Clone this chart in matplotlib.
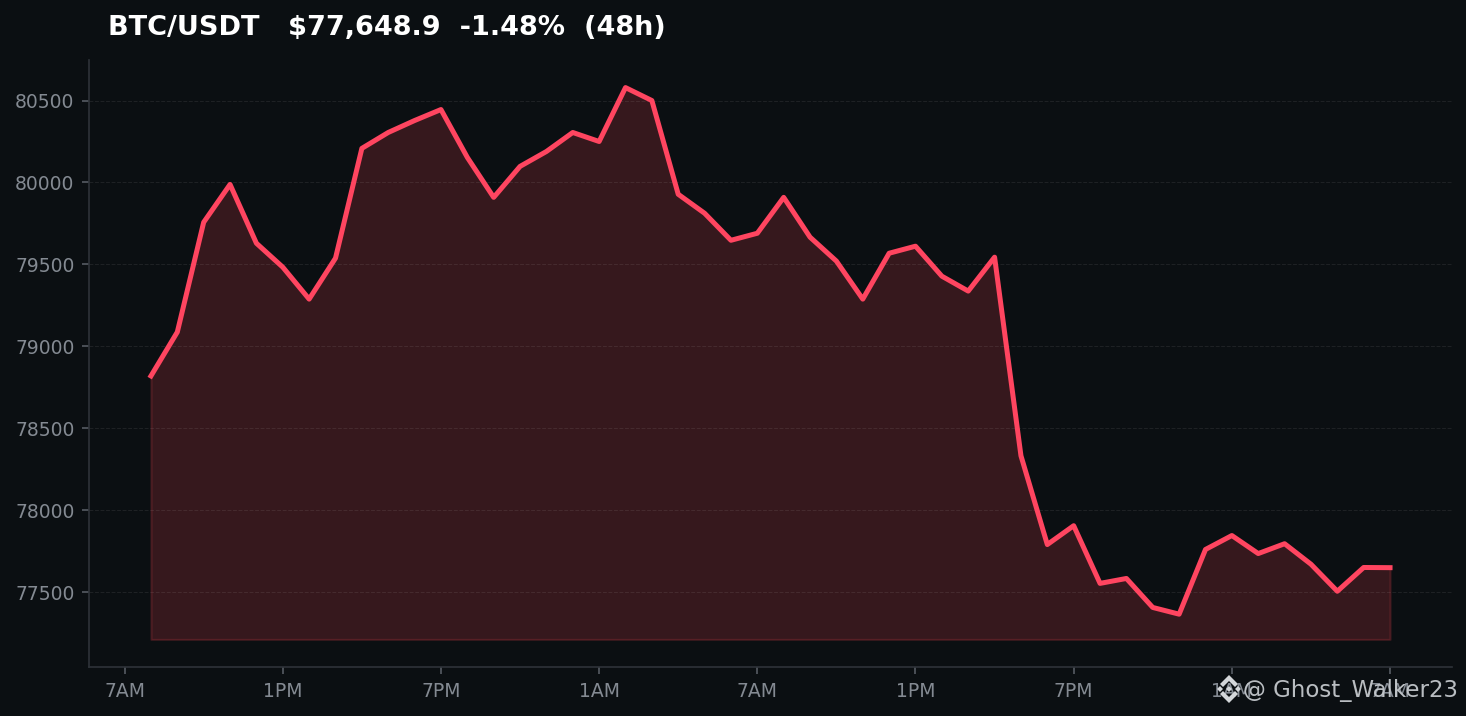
import matplotlib
matplotlib.use('Agg')
import matplotlib.pyplot as plt
from matplotlib.patches import Polygon

# hours since the first tick (7AM)
hours = list(range(1, 49))
price = [78819, 79087, 79757, 79988, 79629, 79483, 79288, 79538,
         80208, 80305, 80378, 80445, 80153, 79909, 80098, 80189,
         80305, 80250, 80579, 80500, 79928, 79812, 79647, 79690,
         79909, 79666, 79520, 79288, 79568, 79611, 79428, 79337,
         79544, 78332, 77790, 77905, 77553, 77583, 77406, 77365,
         77760, 77845, 77735, 77795, 77670, 77505, 77650, 77648.9]
baseline = 77211

tick_hours = [0, 6, 12, 18, 24, 30, 36, 42, 48]
tick_labels = ['7AM', '1PM', '7PM', '1AM', '7AM', '1PM', '7PM', '1AM', '7AM']
y_ticks = [77500, 78000, 78500, 79000, 79500, 80000, 80500]

title = 'BTC/USDT   $77,648.9  -1.48%  (48h)'
watermark = '@ Ghost_Walker23'

bg = '#0b0f12'
red = '#ff4560'
spine = '#2e3339'
tick_col = '#848a92'

W, H = 1466, 716
fig, ax = plt.subplots(figsize=(W / 150, H / 150), dpi=150)
fig.patch.set_facecolor(bg)
ax.set_facecolor(bg)
fig.subplots_adjust(left=89 / W, right=1452 / W, top=1 - 60 / H, bottom=1 - 667 / H)

ax.fill_between(hours, price, baseline, color='#ff4550', alpha=0.18)
ax.plot(hours, price, color=red, linewidth=2.4)

ax.set_xticks(tick_hours)
ax.set_xticklabels(tick_labels)
ax.set_yticks(y_ticks)
ax.tick_params(colors=tick_col, labelsize=9)
ax.tick_params(axis='both', color='#565b63')
ax.grid(axis='y', color='#ffffff', alpha=0.08, linestyle='--', linewidth=0.5)

for side in ['top', 'right']:
    ax.spines[side].set_visible(False)
for side in ['left', 'bottom']:
    ax.spines[side].set_color(spine)

fig.text(108 / W, 1 - 28 / H, title, color='white', fontsize=13, fontweight='bold',
         ha='left', va='center')

# watermark, sits on top of the last tick labels
fig.text(1458 / W, 1 - 691 / H, watermark, color='#c4c8cc', fontsize=11,
         ha='right', va='center', alpha=0.95)

# exchange logo: two chevrons and three small diamonds, in pixels round its centre
chevron = [(0, -14), (9, -5), (6, -2), (0, -8), (-6, -2), (-9, -5)]
logo = [chevron, [(x, -y) for x, y in chevron]]
for cx in [-9, 0, 9]:
    logo.append([(cx, -3), (cx + 3, 0), (cx, 3), (cx - 3, 0)])
for shape in logo:
    pts = [((1229 + x) / W, 1 - (689 + y) / H) for x, y in shape]
    fig.add_artist(Polygon(pts, closed=True, transform=fig.transFigure,
                           facecolor='#d4d7da', edgecolor='none'))

fig.savefig('out.png', dpi=150, facecolor=bg)
